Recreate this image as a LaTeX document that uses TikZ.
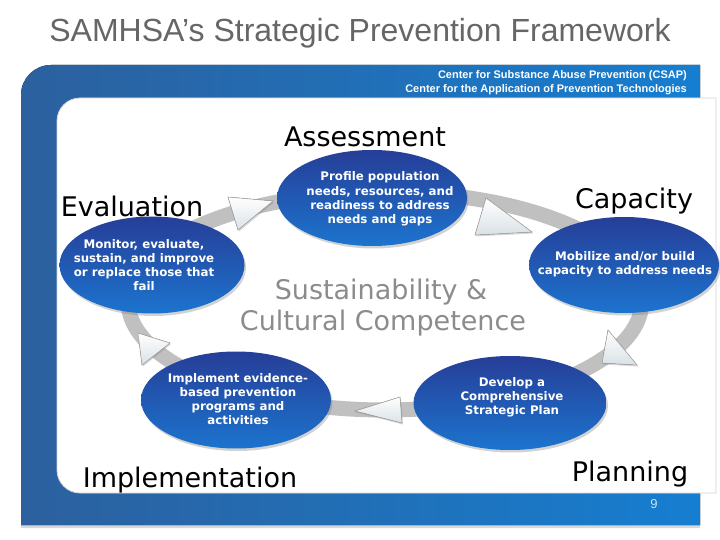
\documentclass[tikz,border=0pt]{standalone}
\usepackage{fontspec}
\setmainfont{DejaVu Sans}
\newfontfamily\arialfont{Liberation Sans}
\usetikzlibrary{shapes.geometric,shadows}
\definecolor{titlegray}{RGB}{102,102,102}
\definecolor{panelleft}{RGB}{44,96,158}
\definecolor{panelright}{RGB}{22,126,208}
\definecolor{panelrim}{RGB}{212,212,212}
\definecolor{blobtop}{RGB}{38,62,152}
\definecolor{blobmid}{RGB}{24,100,192}
\definecolor{blobbot}{RGB}{28,116,206}
\definecolor{ringgray}{RGB}{192,192,192}
\definecolor{centergray}{RGB}{140,140,140}
\definecolor{trishade}{RGB}{218,226,230}
\definecolor{pagenum}{RGB}{200,225,245}

\begin{document}
\begin{tikzpicture}[x=1pt,y=-1pt,
    blob/.style={ellipse, inner sep=0pt, top color=blobtop, middle color=blobmid, bottom color=blobbot,
      drop shadow={shadow xshift=1.5pt, shadow yshift=-2.5pt, opacity=0.35}},
    blobtxt/.style={text=white, align=center, font=\bfseries\fontsize{11.8}{14.2}\selectfont},
    stage/.style={font=\fontsize{27}{31}\selectfont, anchor=base},
    ring/.style={draw=ringgray, line width=15pt},
    tri/.style={draw=gray!70, line width=0.6pt, top color=white, bottom color=trishade,
      drop shadow={shadow xshift=1pt, shadow yshift=-1.5pt, opacity=0.3}}]

  \useasboundingbox[fill=white] (0,0) rectangle (720,540);

  \node[anchor=base, text=titlegray, font=\arialfont\fontsize{32}{36}\selectfont] (title) at (360,42)
    {SAMHSA’s Strategic Prevention Framework};

  \fill[left color=panelleft, right color=panelright,
    drop shadow={shadow xshift=0pt, shadow yshift=-3pt, opacity=0.3}]
    (21,525) -- (21,95) arc[start angle=180, end angle=90, radius=30pt] -- (700,65) -- (700,525) -- cycle;
  \filldraw[fill=white, draw=panelrim, line width=0.8pt]
    (716,98) -- (80,98) arc[start angle=90, end angle=180, radius=23pt] -- (57,470)
    arc[start angle=180, end angle=270, radius=23pt] -- (716,493) -- cycle;

  \begin{scope}[every node/.style={anchor=base east, inner sep=0pt, text=white, font=\arialfont\bfseries\fontsize{11}{13}\selectfont}]
    \node (csap) at (687,79) {Center for Substance Abuse Prevention (CSAP)};
    \node (capt) at (687,93) {Center for the Application of Prevention Technologies};
  \end{scope}
  \node[anchor=base, text=pagenum, font=\arialfont\fontsize{13}{15}\selectfont] (pagenr) at (654,508) {9};

  \draw[ring] (385,301) ellipse [x radius=257pt, y radius=109pt];

  \filldraw[tri] (228,197) -- (238,230) -- (273,201) -- cycle;
  \filldraw[tri] (486,198) -- (475,235) -- (532,232) -- cycle;
  \filldraw[tri] (608,330) -- (602,363) -- (637,365) -- cycle;
  \filldraw[tri] (355,411) -- (400,397) -- (402,423) -- cycle;
  \filldraw[tri] (138,333) -- (170,343) -- (142,365) -- cycle;

  \node[blob, minimum width=190pt, minimum height=96pt] (assess) at (372,198) {};
  \node[blob, minimum width=190pt, minimum height=96pt] (capac)  at (624,265) {};
  \node[blob, minimum width=185pt, minimum height=97pt] (eval)   at (152,265) {};
  \node[blob, minimum width=190pt, minimum height=97pt] (impl)   at (236,400) {};
  \node[blob, minimum width=193pt, minimum height=94pt] (plan)   at (510,403) {};

  \begin{scope}[every node/.style={blobtxt}]
    \node (assesstxt) at (380,199) {Profile population\\needs, resources, and\\readiness to address\\needs and gaps};
    \node (capactxt)  at (625,264) {Mobilize and/or build\\capacity to address needs};
    \node (evaltxt)   at (144,265) {Monitor, evaluate,\\sustain, and improve\\or replace those that\\fail};
    \node (impltxt)   at (238,399) {Implement evidence-\\based prevention\\programs and\\activities};
    \node (plantxt)   at (512,397) {Develop a\\Comprehensive\\Strategic Plan};
  \end{scope}

  \node[stage] (assesslbl) at (365,147) {Assessment};
  \node[stage] (capaclbl)  at (634,209) {Capacity};
  \node[stage] (evallbl)   at (132,217) {Evaluation};
  \node[stage] (impllbl)   at (190,487) {Implementation};
  \node[stage] (planlbl)   at (630,481) {Planning};

  \begin{scope}[every node/.style={stage, text=centergray}]
    \node (sust) at (381,299) {Sustainability \&};
    \node (cult) at (383,330) {Cultural Competence};
  \end{scope}

\end{tikzpicture}
\end{document}
